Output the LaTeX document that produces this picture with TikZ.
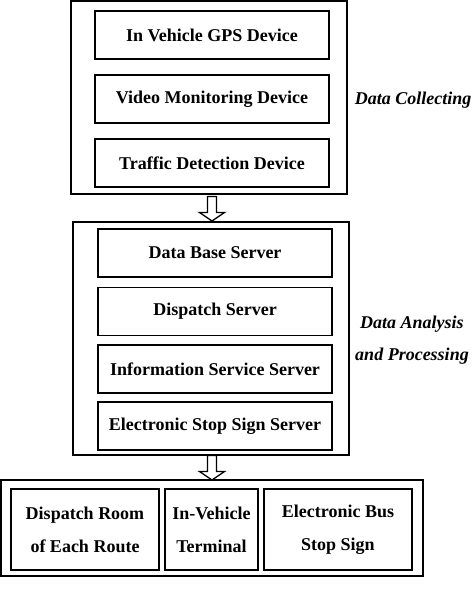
\documentclass[tikz,border=0pt]{standalone}
\usepackage{fontspec}
\setmainfont{Liberation Serif}
\usetikzlibrary{positioning}

\tikzset{
  groupbox/.style={draw,line width=1.8pt,inner sep=0pt},
  devbox/.style={draw,line width=1.8pt,inner sep=0pt,align=center,
    font=\fontsize{18}{33}\selectfont\bfseries},
  phase/.style={align=center,font=\fontsize{18}{32}\selectfont\bfseries\itshape},
  flow/.style={draw,line width=1.3pt,fill=white}
}

\begin{document}
\begin{tikzpicture}[x=1pt,y=-1pt]
\useasboundingbox (0,0) rectangle (474,602);
\pgfmathsetmacro{\shaft}{4.5}
\pgfmathsetmacro{\head}{12.5}
\pgfmathsetmacro{\shaftlen}{16}

% data collecting
\node[groupbox,minimum width=276pt,minimum height=193pt] (collect) at (209,97.5) {};
\node[devbox,minimum width=234pt,minimum height=48pt] (gps) at (212,35) {In Vehicle GPS Device};
\node[devbox,minimum width=234pt,minimum height=48pt] (video) at (212,99) {Video Monitoring Device};
\node[devbox,minimum width=234pt,minimum height=48pt] (traffic) at (212,163) {Traffic Detection Device};
\node[phase] (collectlabel) at (413,100) {Data Collecting};

% data analysis and processing
\node[groupbox,minimum width=276pt,minimum height=233pt] (analysis) at (211,338.5) {};
\node[devbox,minimum width=234pt,minimum height=48pt] (dbase) at (215,253) {Data Base Server};
\node[devbox,minimum width=234pt,minimum height=48pt] (dispatch) at (215,311.5) {Dispatch Server};
\node[devbox,minimum width=234pt,minimum height=48pt] (info) at (215,369) {Information Service Server};
\node[devbox,minimum width=234pt,minimum height=48pt] (stopserver) at (215,426) {Electronic Stop Sign Server};
\node[phase] (analysislabel) at (412,340) {Data Analysis\\and Processing};

% release
\node[groupbox,minimum width=422pt,minimum height=96pt] (release) at (212,528) {};
\node[devbox,minimum width=148pt,minimum height=81pt] (room) at (85,529.5) {Dispatch Room\\of Each Route};
\node[devbox,minimum width=93pt,minimum height=81pt] (terminal) at (211.5,529.5) {In-Vehicle\\Terminal};
\node[devbox,minimum width=148pt,minimum height=81pt] (stopsign) at (338,529.5) {Electronic Bus\\Stop Sign};

% hollow arrows
\coordinate (tip1) at (212,221);
\coordinate (tip2) at (212,480);
\foreach \tip in {tip1,tip2}{
  \draw[flow] (\tip) -- ++(-\head,-\head+4) -- ++(\head-\shaft,0) -- ++(0,-\shaftlen)
    -- ++(2*\shaft,0) -- ++(0,\shaftlen) -- ++(\head-\shaft,0) -- cycle;
}
\end{tikzpicture}
\end{document}
